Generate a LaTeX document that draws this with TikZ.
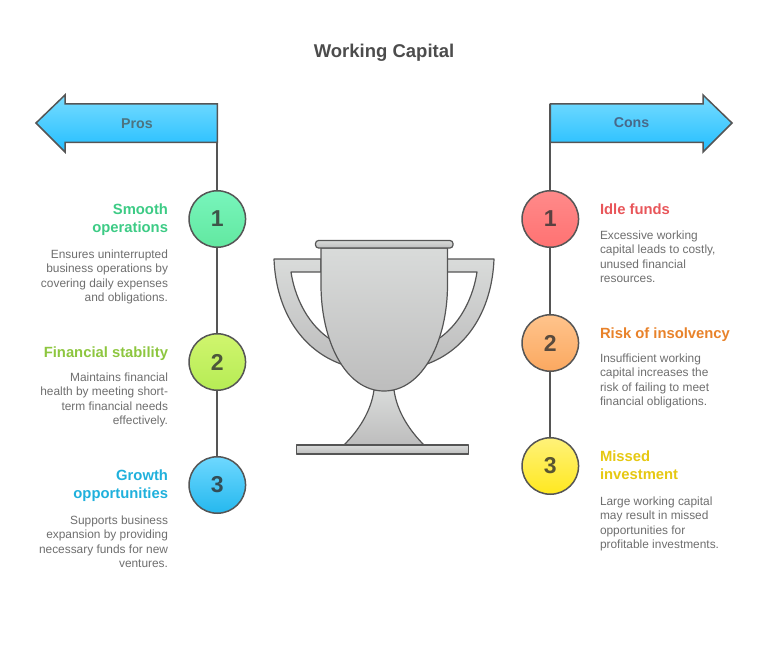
\documentclass[tikz,border=0pt]{standalone}
\usepackage{fontspec}
\usetikzlibrary{backgrounds}
\setmainfont{Liberation Sans}
\definecolor{ink}{HTML}{555555}
\definecolor{body}{HTML}{6E6E6E}
\definecolor{hgreen}{HTML}{3DCB85}
\definecolor{hlime}{HTML}{8DC63F}
\definecolor{hblue}{HTML}{1FB0DC}
\definecolor{hred}{HTML}{E8565A}
\definecolor{horange}{HTML}{E8822A}
\definecolor{hyellow}{HTML}{E6C812}
\definecolor{bannertop}{HTML}{78DCFF}
\definecolor{bannerbot}{HTML}{22BEFF}
\definecolor{cuptop}{HTML}{D9DBDA}
\definecolor{cupbot}{HTML}{BDBDBD}
\definecolor{prostext}{HTML}{4D7480}
\definecolor{constext}{HTML}{48698A}
\definecolor{gat}{HTML}{78F5BC}\definecolor{gab}{HTML}{62E8A0}
\definecolor{gbt}{HTML}{D0F56E}\definecolor{gbb}{HTML}{B6EC55}
\definecolor{gct}{HTML}{6ED8FF}\definecolor{gcb}{HTML}{25B8EE}
\definecolor{rat}{HTML}{FF8A8A}\definecolor{rab}{HTML}{FF7272}
\definecolor{rbt}{HTML}{FFC48C}\definecolor{rbb}{HTML}{FBA860}
\definecolor{rct}{HTML}{FFF27A}\definecolor{rcb}{HTML}{FFE81F}
\tikzset{
  x=1pt,y=-1pt,
  every node/.style={inner sep=0pt,outer sep=0pt},
  wire/.style={draw=ink,line width=1.9pt},
  banner/.style={draw=ink,line width=1.5pt,line join=miter,top color=bannertop,bottom color=bannerbot},
  bannertext/.style={font=\fontsize{14.2}{16}\selectfont\bfseries},
  disc/.style={circle,draw=ink,line width=1.5pt,minimum size=56.5pt,font=\fontsize{23}{24}\selectfont\bfseries},
  head/.style={font=\fontsize{14.8}{17.8}\selectfont\bfseries},
  headL/.style={head,align=right,anchor=north east},
  headR/.style={head,align=left,anchor=north west},
  descL/.style={text=body,font=\fontsize{11.9}{14.3}\selectfont,align=right,anchor=north east},
  descR/.style={text=body,font=\fontsize{11.9}{14.3}\selectfont,align=left,anchor=north west},
  metal/.style={draw=ink,line width=1.2pt,line join=round,top color=cuptop,bottom color=cupbot},
}
\begin{document}
\begin{tikzpicture}
\useasboundingbox (0,0) rectangle (768,647);
\node[text=ink!90!black,font=\fontsize{18.5}{20}\selectfont\bfseries] (title) at (384,53) {Working Capital};

\coordinate (prosroot) at (217.3,104);
\coordinate (consroot) at (550.3,104);

\node[disc,top color=gat,bottom color=gab,text=ink!75!gab!70!black] (p1) at (217.3,219) {1};
\node[disc,top color=gbt,bottom color=gbb,text=ink!75!gbb!70!black] (p2) at (217.3,362) {2};
\node[disc,top color=gct,bottom color=gcb,text=ink!75!gcb!70!black] (p3) at (217.3,485) {3};
\node[disc,top color=rat,bottom color=rab,text=ink!75!rab!70!black] (c1) at (550.3,219) {1};
\node[disc,top color=rbt,bottom color=rbb,text=ink!75!rbb!70!black] (c2) at (550.3,343) {2};
\node[disc,top color=rct,bottom color=rcb,text=ink!75!rcb!70!black] (c3) at (550.3,466) {3};

\begin{scope}[on background layer]
\draw[wire] (prosroot) -- (p1) -- (p2) -- (p3);
\draw[wire] (consroot) -- (c1) -- (c2) -- (c3);
\end{scope}

\path[banner] (prosroot) -- (65,104) -- (65,95) -- (36,123) -- (65,152) -- (65,142.5) -- (217.3,142.5) -- cycle;
\node[bannertext,text=prostext] (pros) at (137,123.5) {Pros};
\path[banner] (consroot) -- (703,104) -- (703,95) -- (732,123) -- (703,152) -- (703,142.5) -- (550.3,142.5) -- cycle;
\node[bannertext,text=constext] (cons) at (631.5,123) {Cons};

\node[headL,text=hgreen] (t1) at (168,203.5) {Smooth\\operations};
\node[descL] (d1) at (168,250) {Ensures uninterrupted\\business operations by\\covering daily expenses\\and obligations.};
\node[headL,text=hlime] (t2) at (168,346.5) {Financial stability};
\node[descL] (d2) at (168,373) {Maintains financial\\health by meeting short-\\term financial needs\\effectively.};
\node[headL,text=hblue] (t3) at (168,469.5) {Growth\\opportunities};
\node[descL] (d3) at (168,516) {Supports business\\expansion by providing\\necessary funds for new\\ventures.};

\node[headR,text=hred] (u1) at (600,203.5) {Idle funds};
\node[descR] (e1) at (600,231) {Excessive working\\capital leads to costly,\\unused financial\\resources.};
\node[headR,text=horange] (u2) at (600,327.5) {Risk of insolvency};
\node[descR] (e2) at (600,354) {Insufficient working\\capital increases the\\risk of failing to meet\\financial obligations.};
\node[headR,text=hyellow] (u3) at (600,450.5) {Missed\\investment};
\node[descR] (e3) at (600,497) {Large working capital\\may result in missed\\opportunities for\\profitable investments.};

\path[metal] (274,259) -- (321,259) -- (321,272) -- (291,272)
  .. controls (296,305) and (314,331) .. (335,342) -- (347,366)
  .. controls (303,353) and (276,312) .. cycle;
\path[metal] (494,259) -- (447,259) -- (447,272) -- (477,272)
  .. controls (472,305) and (454,331) .. (433,342) -- (421,366)
  .. controls (465,353) and (492,312) .. cycle;
\path[metal] (374,390) .. controls (371,412) and (358,431) .. (344,445) -- (424,445)
  .. controls (410,431) and (397,412) .. (394,390) -- cycle;
\path[metal] (296.5,445) rectangle (468.5,454);
\path[metal] (321,248) -- (321,285) .. controls (321,340) and (345,391) .. (384,391)
  .. controls (423,391) and (447.5,340) .. (447.5,285) -- (447.5,248) -- cycle;
\path[metal,rounded corners=3pt] (315.5,240.5) rectangle (453,248);
\end{tikzpicture}
\end{document}
